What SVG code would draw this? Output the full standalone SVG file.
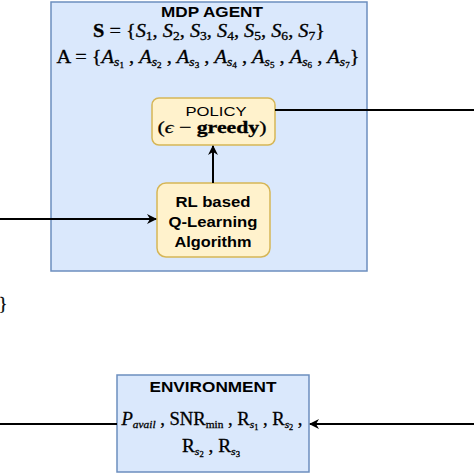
<svg xmlns="http://www.w3.org/2000/svg" width="474" height="474" viewBox="0 0 474 474">
<defs>
<style>
.box{fill:#dae8fc;stroke:#6c8ebf;stroke-width:1.5}
.yb{fill:#fff2cc;stroke:#d6b656;stroke-width:1.5}
.title{font-family:"Liberation Sans",Arial,sans-serif;font-weight:bold;fill:#000;text-anchor:middle}
.sans{font-family:"Liberation Sans",Arial,sans-serif;fill:#000;text-anchor:middle}
.math{font-family:"Liberation Serif","Times New Roman",serif;fill:#000;stroke:#000;stroke-width:0.3;text-anchor:middle}
.it{font-style:italic}
.bf{font-weight:bold}
.conn{stroke:#000;stroke-width:2;fill:none}
</style>
<marker id="arr" viewBox="0 0 10 10" refX="9" refY="5" markerWidth="5" markerHeight="5" orient="auto" markerUnits="strokeWidth">
<path d="M0,0 L10,5 L0,10 L3,5 Z" fill="#000"/>
</marker>
</defs>
<g id="agent">
<rect class="box" x="51" y="2" width="316" height="269"/>
<text class="title" x="212" y="17" style="font-size:14px" textLength="102" lengthAdjust="spacingAndGlyphs">MDP AGENT</text>
<text class="math" x="209" y="37" style="font-size:18px" textLength="232" lengthAdjust="spacingAndGlyphs"><tspan class="bf">S</tspan> = {<tspan class="it">S</tspan><tspan style="font-size:12px" dy="3">1</tspan><tspan dy="-3">, </tspan><tspan class="it">S</tspan><tspan style="font-size:12px" dy="3">2</tspan><tspan dy="-3">, </tspan><tspan class="it">S</tspan><tspan style="font-size:12px" dy="3">3</tspan><tspan dy="-3">, </tspan><tspan class="it">S</tspan><tspan style="font-size:12px" dy="3">4</tspan><tspan dy="-3">, </tspan><tspan class="it">S</tspan><tspan style="font-size:12px" dy="3">5</tspan><tspan dy="-3">, </tspan><tspan class="it">S</tspan><tspan style="font-size:12px" dy="3">6</tspan><tspan dy="-3">, </tspan><tspan class="it">S</tspan><tspan style="font-size:12px" dy="3">7</tspan><tspan dy="-3">}</tspan></text>
<text class="math" x="208" y="63" style="font-size:18px" textLength="303" lengthAdjust="spacingAndGlyphs">A = {<tspan class="it">A</tspan><tspan class="it" style="font-size:12px" dy="3">s</tspan><tspan style="font-size:8px" dy="2">1</tspan><tspan dy="-5"> , </tspan><tspan class="it">A</tspan><tspan class="it" style="font-size:12px" dy="3">s</tspan><tspan style="font-size:8px" dy="2">2</tspan><tspan dy="-5"> , </tspan><tspan class="it">A</tspan><tspan class="it" style="font-size:12px" dy="3">s</tspan><tspan style="font-size:8px" dy="2">3</tspan><tspan dy="-5"> , </tspan><tspan class="it">A</tspan><tspan class="it" style="font-size:12px" dy="3">s</tspan><tspan style="font-size:8px" dy="2">4</tspan><tspan dy="-5"> , </tspan><tspan class="it">A</tspan><tspan class="it" style="font-size:12px" dy="3">s</tspan><tspan style="font-size:8px" dy="2">5</tspan><tspan dy="-5"> , </tspan><tspan class="it">A</tspan><tspan class="it" style="font-size:12px" dy="3">s</tspan><tspan style="font-size:8px" dy="2">6</tspan><tspan dy="-5"> , </tspan><tspan class="it">A</tspan><tspan class="it" style="font-size:12px" dy="3">s</tspan><tspan style="font-size:8px" dy="2">7</tspan><tspan dy="-5">}</tspan></text>
</g>
<g id="policy">
<rect class="yb" x="152" y="98" width="123" height="47" rx="7"/>
<text class="sans" x="216" y="116" style="font-size:13px" textLength="61" lengthAdjust="spacingAndGlyphs">POLICY</text>
<text class="math" x="212" y="133" style="font-size:17px" textLength="109" lengthAdjust="spacingAndGlyphs">(<tspan class="it">ϵ</tspan> − <tspan class="bf">greedy</tspan>)</text>
</g>
<g id="rl">
<rect class="yb" x="157" y="183" width="113" height="74" rx="9"/>
<text class="title" x="213" y="207" style="font-size:15px" textLength="75" lengthAdjust="spacingAndGlyphs">RL based</text>
<text class="title" x="213" y="227" style="font-size:15px" textLength="89" lengthAdjust="spacingAndGlyphs">Q-Learning</text>
<text class="title" x="213" y="247" style="font-size:15px" textLength="77" lengthAdjust="spacingAndGlyphs">Algorithm</text>
</g>
<g id="environment">
<rect class="box" x="117" y="375" width="192" height="97"/>
<text class="title" x="213" y="392" style="font-size:14px" textLength="127" lengthAdjust="spacingAndGlyphs">ENVIRONMENT</text>
<text class="math" x="212" y="425" style="font-size:18px" textLength="181" lengthAdjust="spacingAndGlyphs"><tspan class="it">P</tspan><tspan class="it" style="font-size:11px" dy="3">avail</tspan><tspan dy="-3"> , SNR</tspan><tspan style="font-size:11px" dy="3">min</tspan><tspan dy="-3"> , R</tspan><tspan class="it" style="font-size:11px" dy="3">s</tspan><tspan style="font-size:8px" dy="2">1</tspan><tspan dy="-5"> , R</tspan><tspan class="it" style="font-size:11px" dy="3">s</tspan><tspan style="font-size:8px" dy="2">2</tspan><tspan dy="-5"> ,</tspan></text>
<text class="math" x="211" y="452" style="font-size:18px" textLength="58" lengthAdjust="spacingAndGlyphs">R<tspan class="it" style="font-size:11px" dy="3">s</tspan><tspan style="font-size:8px" dy="2">2</tspan><tspan dy="-5"> , R</tspan><tspan class="it" style="font-size:11px" dy="3">s</tspan><tspan style="font-size:8px" dy="2">3</tspan></text>
</g>
<g id="fragment">
<text class="math" x="3" y="310" style="font-size:18px" text-anchor="start">}</text>
</g>
<g id="connectors">
<line class="conn" x1="213" y1="183" x2="213" y2="146" marker-end="url(#arr)"/>
<line class="conn" x1="0" y1="219" x2="156" y2="219" marker-end="url(#arr)"/>
<line class="conn" x1="275" y1="110" x2="474" y2="110"/>
<line class="conn" x1="474" y1="424" x2="310" y2="424" marker-end="url(#arr)"/>
<line class="conn" x1="0" y1="424" x2="117" y2="424"/>
</g>
</svg>
